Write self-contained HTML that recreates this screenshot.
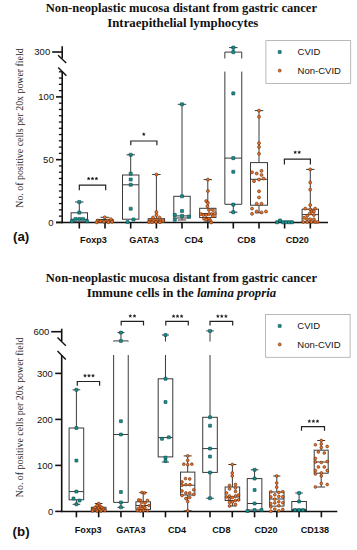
<!DOCTYPE html>
<html><head><meta charset="utf-8"><style>
html,body{margin:0;padding:0;background:#fff;}
body{width:357px;height:550px;overflow:hidden;}
svg{display:block;}
text{fill:#111;}
</style></head><body>
<svg width="357" height="550" viewBox="0 0 357 550">
<rect width="357" height="550" fill="#fff"/>
<text x="45.8" y="12.2" font-family="'Liberation Serif', serif" font-size="12.2" font-weight="bold" text-anchor="start" id="ta1" textLength="271.2" lengthAdjust="spacingAndGlyphs">Non-neoplastic mucosa distant from gastric cancer</text>
<text x="107.2" y="26.6" font-family="'Liberation Serif', serif" font-size="12.2" font-weight="bold" text-anchor="start" id="ta2" textLength="151.2" lengthAdjust="spacingAndGlyphs">Intraepithelial lymphocytes</text>
<text transform="translate(23.2,128.05) rotate(-90)" font-family="'Liberation Serif', serif" font-size="9.8" style="fill:#2a2a2a" text-anchor="middle" textLength="159.3" lengthAdjust="spacingAndGlyphs" id="yla">No. of positive cells per 20x power field</text>
<line x1="62.2" y1="46.2" x2="62.2" y2="58.5" stroke="#111" stroke-width="1.6"/>
<line x1="62.2" y1="71.2" x2="62.2" y2="223.2" stroke="#111" stroke-width="1.6"/>
<line x1="58.1" y1="55.2" x2="66.2" y2="63.0" stroke="#111" stroke-width="1.4"/>
<line x1="58.2" y1="67.6" x2="66.4" y2="75.8" stroke="#111" stroke-width="1.4"/>
<line x1="56.0" y1="222.5" x2="328.0" y2="222.5" stroke="#111" stroke-width="1.6"/>
<line x1="52.2" y1="52.0" x2="62.2" y2="52.0" stroke="#111" stroke-width="1.6"/>
<line x1="56.0" y1="96.90000000000002" x2="62.2" y2="96.90000000000002" stroke="#111" stroke-width="1.6"/>
<line x1="56.0" y1="159.65" x2="62.2" y2="159.65" stroke="#111" stroke-width="1.6"/>
<line x1="56.0" y1="222.4" x2="62.2" y2="222.4" stroke="#111" stroke-width="1.6"/>
<line x1="58.9" y1="216.125" x2="62.2" y2="216.125" stroke="#111" stroke-width="1.3"/>
<line x1="58.9" y1="209.85" x2="62.2" y2="209.85" stroke="#111" stroke-width="1.3"/>
<line x1="58.9" y1="203.57500000000002" x2="62.2" y2="203.57500000000002" stroke="#111" stroke-width="1.3"/>
<line x1="58.9" y1="197.3" x2="62.2" y2="197.3" stroke="#111" stroke-width="1.3"/>
<line x1="58.9" y1="191.025" x2="62.2" y2="191.025" stroke="#111" stroke-width="1.3"/>
<line x1="58.9" y1="184.75" x2="62.2" y2="184.75" stroke="#111" stroke-width="1.3"/>
<line x1="58.9" y1="178.47500000000002" x2="62.2" y2="178.47500000000002" stroke="#111" stroke-width="1.3"/>
<line x1="58.9" y1="172.20000000000002" x2="62.2" y2="172.20000000000002" stroke="#111" stroke-width="1.3"/>
<line x1="58.9" y1="165.925" x2="62.2" y2="165.925" stroke="#111" stroke-width="1.3"/>
<line x1="58.9" y1="153.375" x2="62.2" y2="153.375" stroke="#111" stroke-width="1.3"/>
<line x1="58.9" y1="147.10000000000002" x2="62.2" y2="147.10000000000002" stroke="#111" stroke-width="1.3"/>
<line x1="58.9" y1="140.82500000000002" x2="62.2" y2="140.82500000000002" stroke="#111" stroke-width="1.3"/>
<line x1="58.9" y1="134.55" x2="62.2" y2="134.55" stroke="#111" stroke-width="1.3"/>
<line x1="58.9" y1="128.27500000000003" x2="62.2" y2="128.27500000000003" stroke="#111" stroke-width="1.3"/>
<line x1="58.9" y1="122.00000000000001" x2="62.2" y2="122.00000000000001" stroke="#111" stroke-width="1.3"/>
<line x1="58.9" y1="115.72500000000001" x2="62.2" y2="115.72500000000001" stroke="#111" stroke-width="1.3"/>
<line x1="58.9" y1="109.45000000000002" x2="62.2" y2="109.45000000000002" stroke="#111" stroke-width="1.3"/>
<line x1="58.9" y1="103.17500000000001" x2="62.2" y2="103.17500000000001" stroke="#111" stroke-width="1.3"/>
<line x1="58.9" y1="90.62500000000003" x2="62.2" y2="90.62500000000003" stroke="#111" stroke-width="1.3"/>
<line x1="58.9" y1="84.35000000000002" x2="62.2" y2="84.35000000000002" stroke="#111" stroke-width="1.3"/>
<line x1="58.9" y1="78.07500000000002" x2="62.2" y2="78.07500000000002" stroke="#111" stroke-width="1.3"/>
<line x1="58.9" y1="71.80000000000001" x2="62.2" y2="71.80000000000001" stroke="#111" stroke-width="1.3"/>
<text x="50.2" y="55.0" font-family="'Liberation Sans', sans-serif" font-size="9.5" font-weight="normal" text-anchor="end" >300</text>
<text x="54.2" y="100.30000000000003" font-family="'Liberation Sans', sans-serif" font-size="9.5" font-weight="normal" text-anchor="end" >100</text>
<text x="53.7" y="163.05" font-family="'Liberation Sans', sans-serif" font-size="9.5" font-weight="normal" text-anchor="end" >50</text>
<text x="53.6" y="225.8" font-family="'Liberation Sans', sans-serif" font-size="9.5" font-weight="normal" text-anchor="end" >0</text>
<line x1="79.3" y1="222.4" x2="79.3" y2="228.5" stroke="#111" stroke-width="1.6"/>
<line x1="105.0" y1="222.4" x2="105.0" y2="228.5" stroke="#111" stroke-width="1.6"/>
<line x1="130.7" y1="222.4" x2="130.7" y2="228.5" stroke="#111" stroke-width="1.6"/>
<line x1="156.4" y1="222.4" x2="156.4" y2="228.5" stroke="#111" stroke-width="1.6"/>
<line x1="182.0" y1="222.4" x2="182.0" y2="228.5" stroke="#111" stroke-width="1.6"/>
<line x1="207.8" y1="222.4" x2="207.8" y2="228.5" stroke="#111" stroke-width="1.6"/>
<line x1="233.3" y1="222.4" x2="233.3" y2="228.5" stroke="#111" stroke-width="1.6"/>
<line x1="259.0" y1="222.4" x2="259.0" y2="228.5" stroke="#111" stroke-width="1.6"/>
<line x1="284.6" y1="222.4" x2="284.6" y2="228.5" stroke="#111" stroke-width="1.6"/>
<line x1="310.3" y1="222.4" x2="310.3" y2="228.5" stroke="#111" stroke-width="1.6"/>
<text x="93.5" y="242.6" font-family="'Liberation Sans', sans-serif" font-size="9.1" font-weight="bold" text-anchor="middle" >Foxp3</text>
<text x="144.1" y="242.6" font-family="'Liberation Sans', sans-serif" font-size="9.1" font-weight="bold" text-anchor="middle" >GATA3</text>
<text x="193.7" y="242.6" font-family="'Liberation Sans', sans-serif" font-size="9.1" font-weight="bold" text-anchor="middle" >CD4</text>
<text x="246.4" y="242.6" font-family="'Liberation Sans', sans-serif" font-size="9.1" font-weight="bold" text-anchor="middle" >CD8</text>
<text x="297.3" y="242.6" font-family="'Liberation Sans', sans-serif" font-size="9.1" font-weight="bold" text-anchor="middle" >CD20</text>
<text x="21.1" y="241.2" font-family="'Liberation Sans', sans-serif" font-size="13.3" font-weight="bold" text-anchor="middle" >(a)</text>
<rect x="265.9" y="40.6" width="84.8" height="42.8" fill="none" stroke="#a8a8a8" stroke-width="0.8"/>
<rect x="278.20" y="50.50" width="3.0" height="3.0" rx="0.3" fill="#14908e" stroke="#0a4446" stroke-width="0.55"/>
<circle cx="279.70" cy="70.60" r="1.5" fill="#f07424" stroke="#5e2a10" stroke-width="0.6"/>
<text x="297.6" y="55.4" font-family="'Liberation Sans', sans-serif" font-size="9.5" font-weight="normal" text-anchor="start" >CVID</text>
<text x="297.6" y="74.0" font-family="'Liberation Sans', sans-serif" font-size="9.5" font-weight="normal" text-anchor="start" >Non-CVID</text>
<line x1="79.3" y1="202.0" x2="79.3" y2="212.8" stroke="#3a3a3a" stroke-width="1"/>
<line x1="75.1" y1="202.0" x2="83.5" y2="202.0" stroke="#3a3a3a" stroke-width="1"/>
<rect x="71.1" y="212.8" width="16.4" height="9.0" fill="none" stroke="#3a3a3a" stroke-width="1"/>
<line x1="71.1" y1="219.3" x2="87.5" y2="219.3" stroke="#3a3a3a" stroke-width="1"/>
<rect x="77.75" y="200.45" width="3.1" height="3.1" rx="0.3" fill="#14908e" stroke="#0a4446" stroke-width="0.55"/>
<rect x="77.75" y="211.05" width="3.1" height="3.1" rx="0.3" fill="#14908e" stroke="#0a4446" stroke-width="0.55"/>
<rect x="73.95" y="217.45" width="3.1" height="3.1" rx="0.3" fill="#14908e" stroke="#0a4446" stroke-width="0.55"/>
<rect x="77.75" y="217.45" width="3.1" height="3.1" rx="0.3" fill="#14908e" stroke="#0a4446" stroke-width="0.55"/>
<rect x="81.45" y="217.45" width="3.1" height="3.1" rx="0.3" fill="#14908e" stroke="#0a4446" stroke-width="0.55"/>
<rect x="70.45" y="219.65" width="3.1" height="3.1" rx="0.3" fill="#14908e" stroke="#0a4446" stroke-width="0.55"/>
<rect x="85.45" y="219.65" width="3.1" height="3.1" rx="0.3" fill="#14908e" stroke="#0a4446" stroke-width="0.55"/>
<line x1="105.0" y1="217.3" x2="105.0" y2="219.5" stroke="#3a3a3a" stroke-width="1"/>
<line x1="100.5" y1="217.3" x2="109.5" y2="217.3" stroke="#3a3a3a" stroke-width="1"/>
<rect x="96.8" y="219.5" width="16.4" height="2.8000000000000114" fill="none" stroke="#3a3a3a" stroke-width="1"/>
<line x1="96.8" y1="221.0" x2="113.2" y2="221.0" stroke="#3a3a3a" stroke-width="1"/>
<circle cx="104.70" cy="217.30" r="1.5" fill="#f07424" stroke="#5e2a10" stroke-width="0.6"/>
<circle cx="97.50" cy="220.50" r="1.5" fill="#f07424" stroke="#5e2a10" stroke-width="0.6"/>
<circle cx="100.50" cy="221.20" r="1.5" fill="#f07424" stroke="#5e2a10" stroke-width="0.6"/>
<circle cx="104.00" cy="221.80" r="1.5" fill="#f07424" stroke="#5e2a10" stroke-width="0.6"/>
<circle cx="107.50" cy="220.50" r="1.5" fill="#f07424" stroke="#5e2a10" stroke-width="0.6"/>
<circle cx="111.00" cy="219.30" r="1.5" fill="#f07424" stroke="#5e2a10" stroke-width="0.6"/>
<circle cx="112.00" cy="221.80" r="1.5" fill="#f07424" stroke="#5e2a10" stroke-width="0.6"/>
<circle cx="108.50" cy="222.20" r="1.5" fill="#f07424" stroke="#5e2a10" stroke-width="0.6"/>
<circle cx="96.80" cy="222.30" r="1.5" fill="#f07424" stroke="#5e2a10" stroke-width="0.6"/>
<line x1="130.7" y1="154.8" x2="130.7" y2="175.0" stroke="#3a3a3a" stroke-width="1"/>
<line x1="126.49999999999999" y1="154.8" x2="134.89999999999998" y2="154.8" stroke="#3a3a3a" stroke-width="1"/>
<rect x="122.49999999999999" y="175.0" width="16.4" height="44.19999999999999" fill="none" stroke="#3a3a3a" stroke-width="1"/>
<line x1="122.49999999999999" y1="184.8" x2="138.89999999999998" y2="184.8" stroke="#3a3a3a" stroke-width="1"/>
<rect x="129.15" y="153.25" width="3.1" height="3.1" rx="0.3" fill="#14908e" stroke="#0a4446" stroke-width="0.55"/>
<rect x="129.15" y="172.15" width="3.1" height="3.1" rx="0.3" fill="#14908e" stroke="#0a4446" stroke-width="0.55"/>
<rect x="129.15" y="177.95" width="3.1" height="3.1" rx="0.3" fill="#14908e" stroke="#0a4446" stroke-width="0.55"/>
<rect x="129.15" y="183.25" width="3.1" height="3.1" rx="0.3" fill="#14908e" stroke="#0a4446" stroke-width="0.55"/>
<rect x="129.15" y="207.15" width="3.1" height="3.1" rx="0.3" fill="#14908e" stroke="#0a4446" stroke-width="0.55"/>
<rect x="125.95" y="220.45" width="3.1" height="3.1" rx="0.3" fill="#14908e" stroke="#0a4446" stroke-width="0.55"/>
<rect x="131.95" y="217.95" width="3.1" height="3.1" rx="0.3" fill="#14908e" stroke="#0a4446" stroke-width="0.55"/>
<line x1="156.4" y1="174.5" x2="156.4" y2="218.7" stroke="#3a3a3a" stroke-width="1"/>
<line x1="152.20000000000002" y1="174.5" x2="160.6" y2="174.5" stroke="#3a3a3a" stroke-width="1"/>
<rect x="148.20000000000002" y="218.7" width="16.4" height="3.3000000000000114" fill="none" stroke="#3a3a3a" stroke-width="1"/>
<line x1="148.20000000000002" y1="220.5" x2="164.6" y2="220.5" stroke="#3a3a3a" stroke-width="1"/>
<circle cx="156.40" cy="174.50" r="1.5" fill="#f07424" stroke="#5e2a10" stroke-width="0.6"/>
<circle cx="156.40" cy="212.00" r="1.5" fill="#f07424" stroke="#5e2a10" stroke-width="0.6"/>
<circle cx="156.40" cy="215.00" r="1.5" fill="#f07424" stroke="#5e2a10" stroke-width="0.6"/>
<circle cx="153.00" cy="217.50" r="1.5" fill="#f07424" stroke="#5e2a10" stroke-width="0.6"/>
<circle cx="159.50" cy="217.50" r="1.5" fill="#f07424" stroke="#5e2a10" stroke-width="0.6"/>
<circle cx="150.00" cy="220.00" r="1.5" fill="#f07424" stroke="#5e2a10" stroke-width="0.6"/>
<circle cx="153.50" cy="220.50" r="1.5" fill="#f07424" stroke="#5e2a10" stroke-width="0.6"/>
<circle cx="157.00" cy="220.00" r="1.5" fill="#f07424" stroke="#5e2a10" stroke-width="0.6"/>
<circle cx="160.50" cy="220.50" r="1.5" fill="#f07424" stroke="#5e2a10" stroke-width="0.6"/>
<circle cx="163.00" cy="221.00" r="1.5" fill="#f07424" stroke="#5e2a10" stroke-width="0.6"/>
<circle cx="149.00" cy="222.00" r="1.5" fill="#f07424" stroke="#5e2a10" stroke-width="0.6"/>
<circle cx="152.00" cy="222.20" r="1.5" fill="#f07424" stroke="#5e2a10" stroke-width="0.6"/>
<circle cx="156.00" cy="222.00" r="1.5" fill="#f07424" stroke="#5e2a10" stroke-width="0.6"/>
<circle cx="160.00" cy="222.20" r="1.5" fill="#f07424" stroke="#5e2a10" stroke-width="0.6"/>
<line x1="182.0" y1="104.3" x2="182.0" y2="196.3" stroke="#3a3a3a" stroke-width="1"/>
<line x1="177.8" y1="104.3" x2="186.2" y2="104.3" stroke="#3a3a3a" stroke-width="1"/>
<line x1="182.0" y1="218.0" x2="182.0" y2="220.0" stroke="#3a3a3a" stroke-width="1"/>
<line x1="177.8" y1="220.0" x2="186.2" y2="220.0" stroke="#3a3a3a" stroke-width="1"/>
<rect x="173.8" y="196.3" width="16.4" height="21.69999999999999" fill="none" stroke="#3a3a3a" stroke-width="1"/>
<line x1="173.8" y1="215.9" x2="190.2" y2="215.9" stroke="#3a3a3a" stroke-width="1"/>
<rect x="180.45" y="102.75" width="3.1" height="3.1" rx="0.3" fill="#14908e" stroke="#0a4446" stroke-width="0.55"/>
<rect x="180.45" y="194.75" width="3.1" height="3.1" rx="0.3" fill="#14908e" stroke="#0a4446" stroke-width="0.55"/>
<rect x="180.45" y="209.45" width="3.1" height="3.1" rx="0.3" fill="#14908e" stroke="#0a4446" stroke-width="0.55"/>
<rect x="173.25" y="213.35" width="3.1" height="3.1" rx="0.3" fill="#14908e" stroke="#0a4446" stroke-width="0.55"/>
<rect x="180.45" y="214.35" width="3.1" height="3.1" rx="0.3" fill="#14908e" stroke="#0a4446" stroke-width="0.55"/>
<rect x="187.45" y="215.05" width="3.1" height="3.1" rx="0.3" fill="#14908e" stroke="#0a4446" stroke-width="0.55"/>
<rect x="173.25" y="218.15" width="3.1" height="3.1" rx="0.3" fill="#14908e" stroke="#0a4446" stroke-width="0.55"/>
<line x1="207.8" y1="179.6" x2="207.8" y2="208.3" stroke="#3a3a3a" stroke-width="1"/>
<line x1="203.60000000000002" y1="179.6" x2="212.0" y2="179.6" stroke="#3a3a3a" stroke-width="1"/>
<line x1="207.8" y1="217.5" x2="207.8" y2="222.0" stroke="#3a3a3a" stroke-width="1"/>
<line x1="203.60000000000002" y1="222.0" x2="212.0" y2="222.0" stroke="#3a3a3a" stroke-width="1"/>
<rect x="199.65" y="208.3" width="16.3" height="9.199999999999989" fill="none" stroke="#3a3a3a" stroke-width="1"/>
<line x1="199.65" y1="213.5" x2="215.95000000000002" y2="213.5" stroke="#3a3a3a" stroke-width="1"/>
<circle cx="207.90" cy="179.60" r="1.5" fill="#f07424" stroke="#5e2a10" stroke-width="0.6"/>
<circle cx="207.90" cy="191.00" r="1.5" fill="#f07424" stroke="#5e2a10" stroke-width="0.6"/>
<circle cx="206.20" cy="201.10" r="1.5" fill="#f07424" stroke="#5e2a10" stroke-width="0.6"/>
<circle cx="207.90" cy="202.80" r="1.5" fill="#f07424" stroke="#5e2a10" stroke-width="0.6"/>
<circle cx="207.40" cy="206.10" r="1.5" fill="#f07424" stroke="#5e2a10" stroke-width="0.6"/>
<circle cx="209.00" cy="210.00" r="1.5" fill="#f07424" stroke="#5e2a10" stroke-width="0.6"/>
<circle cx="212.90" cy="210.00" r="1.5" fill="#f07424" stroke="#5e2a10" stroke-width="0.6"/>
<circle cx="200.80" cy="214.00" r="1.5" fill="#f07424" stroke="#5e2a10" stroke-width="0.6"/>
<circle cx="203.30" cy="215.00" r="1.5" fill="#f07424" stroke="#5e2a10" stroke-width="0.6"/>
<circle cx="206.20" cy="215.00" r="1.5" fill="#f07424" stroke="#5e2a10" stroke-width="0.6"/>
<circle cx="209.00" cy="214.00" r="1.5" fill="#f07424" stroke="#5e2a10" stroke-width="0.6"/>
<circle cx="211.70" cy="214.00" r="1.5" fill="#f07424" stroke="#5e2a10" stroke-width="0.6"/>
<circle cx="214.90" cy="213.40" r="1.5" fill="#f07424" stroke="#5e2a10" stroke-width="0.6"/>
<circle cx="212.90" cy="216.20" r="1.5" fill="#f07424" stroke="#5e2a10" stroke-width="0.6"/>
<circle cx="204.00" cy="218.70" r="1.5" fill="#f07424" stroke="#5e2a10" stroke-width="0.6"/>
<circle cx="209.00" cy="218.70" r="1.5" fill="#f07424" stroke="#5e2a10" stroke-width="0.6"/>
<circle cx="206.20" cy="219.60" r="1.5" fill="#f07424" stroke="#5e2a10" stroke-width="0.6"/>
<circle cx="210.40" cy="220.40" r="1.5" fill="#f07424" stroke="#5e2a10" stroke-width="0.6"/>
<circle cx="211.20" cy="222.40" r="1.5" fill="#f07424" stroke="#5e2a10" stroke-width="0.6"/>
<line x1="233.3" y1="47.6" x2="233.3" y2="52.1" stroke="#3a3a3a" stroke-width="1"/>
<line x1="229.10000000000002" y1="47.6" x2="237.5" y2="47.6" stroke="#3a3a3a" stroke-width="1"/>
<line x1="233.3" y1="204.3" x2="233.3" y2="212.2" stroke="#3a3a3a" stroke-width="1"/>
<line x1="229.10000000000002" y1="212.2" x2="237.5" y2="212.2" stroke="#3a3a3a" stroke-width="1"/>
<line x1="224.85000000000002" y1="52.1" x2="241.75" y2="52.1" stroke="#3a3a3a" stroke-width="1"/>
<line x1="224.85000000000002" y1="52.1" x2="224.85000000000002" y2="58.5" stroke="#3a3a3a" stroke-width="1"/>
<line x1="224.85000000000002" y1="71.6" x2="224.85000000000002" y2="204.3" stroke="#3a3a3a" stroke-width="1"/>
<line x1="241.75" y1="52.1" x2="241.75" y2="58.5" stroke="#3a3a3a" stroke-width="1"/>
<line x1="241.75" y1="71.6" x2="241.75" y2="204.3" stroke="#3a3a3a" stroke-width="1"/>
<line x1="224.85000000000002" y1="204.3" x2="241.75" y2="204.3" stroke="#3a3a3a" stroke-width="1"/>
<line x1="224.85000000000002" y1="158.1" x2="241.75" y2="158.1" stroke="#3a3a3a" stroke-width="1"/>
<rect x="231.75" y="46.05" width="3.1" height="3.1" rx="0.3" fill="#14908e" stroke="#0a4446" stroke-width="0.55"/>
<rect x="231.75" y="50.55" width="3.1" height="3.1" rx="0.3" fill="#14908e" stroke="#0a4446" stroke-width="0.55"/>
<rect x="231.75" y="91.85" width="3.1" height="3.1" rx="0.3" fill="#14908e" stroke="#0a4446" stroke-width="0.55"/>
<rect x="231.75" y="156.55" width="3.1" height="3.1" rx="0.3" fill="#14908e" stroke="#0a4446" stroke-width="0.55"/>
<rect x="231.75" y="170.25" width="3.1" height="3.1" rx="0.3" fill="#14908e" stroke="#0a4446" stroke-width="0.55"/>
<rect x="231.75" y="203.05" width="3.1" height="3.1" rx="0.3" fill="#14908e" stroke="#0a4446" stroke-width="0.55"/>
<rect x="231.75" y="210.65" width="3.1" height="3.1" rx="0.3" fill="#14908e" stroke="#0a4446" stroke-width="0.55"/>
<line x1="259.0" y1="110.6" x2="259.0" y2="162.6" stroke="#3a3a3a" stroke-width="1"/>
<line x1="254.8" y1="110.6" x2="263.2" y2="110.6" stroke="#3a3a3a" stroke-width="1"/>
<line x1="259.0" y1="205.2" x2="259.0" y2="212.8" stroke="#3a3a3a" stroke-width="1"/>
<line x1="254.8" y1="212.8" x2="263.2" y2="212.8" stroke="#3a3a3a" stroke-width="1"/>
<rect x="250.5" y="162.6" width="17.0" height="42.599999999999994" fill="none" stroke="#3a3a3a" stroke-width="1"/>
<line x1="250.5" y1="179.3" x2="267.5" y2="179.3" stroke="#3a3a3a" stroke-width="1"/>
<circle cx="259.00" cy="110.60" r="1.5" fill="#f07424" stroke="#5e2a10" stroke-width="0.6"/>
<circle cx="259.00" cy="116.80" r="1.5" fill="#f07424" stroke="#5e2a10" stroke-width="0.6"/>
<circle cx="259.00" cy="143.20" r="1.5" fill="#f07424" stroke="#5e2a10" stroke-width="0.6"/>
<circle cx="259.00" cy="147.00" r="1.5" fill="#f07424" stroke="#5e2a10" stroke-width="0.6"/>
<circle cx="259.00" cy="153.70" r="1.5" fill="#f07424" stroke="#5e2a10" stroke-width="0.6"/>
<circle cx="252.00" cy="172.30" r="1.5" fill="#f07424" stroke="#5e2a10" stroke-width="0.6"/>
<circle cx="256.70" cy="173.50" r="1.5" fill="#f07424" stroke="#5e2a10" stroke-width="0.6"/>
<circle cx="261.50" cy="170.80" r="1.5" fill="#f07424" stroke="#5e2a10" stroke-width="0.6"/>
<circle cx="261.50" cy="174.90" r="1.5" fill="#f07424" stroke="#5e2a10" stroke-width="0.6"/>
<circle cx="254.00" cy="181.20" r="1.5" fill="#f07424" stroke="#5e2a10" stroke-width="0.6"/>
<circle cx="259.00" cy="179.60" r="1.5" fill="#f07424" stroke="#5e2a10" stroke-width="0.6"/>
<circle cx="263.60" cy="178.60" r="1.5" fill="#f07424" stroke="#5e2a10" stroke-width="0.6"/>
<circle cx="259.00" cy="191.30" r="1.5" fill="#f07424" stroke="#5e2a10" stroke-width="0.6"/>
<circle cx="259.00" cy="197.40" r="1.5" fill="#f07424" stroke="#5e2a10" stroke-width="0.6"/>
<circle cx="256.70" cy="203.70" r="1.5" fill="#f07424" stroke="#5e2a10" stroke-width="0.6"/>
<circle cx="261.50" cy="203.70" r="1.5" fill="#f07424" stroke="#5e2a10" stroke-width="0.6"/>
<circle cx="252.00" cy="208.60" r="1.5" fill="#f07424" stroke="#5e2a10" stroke-width="0.6"/>
<circle cx="256.70" cy="211.50" r="1.5" fill="#f07424" stroke="#5e2a10" stroke-width="0.6"/>
<circle cx="261.50" cy="212.40" r="1.5" fill="#f07424" stroke="#5e2a10" stroke-width="0.6"/>
<circle cx="266.00" cy="211.50" r="1.5" fill="#f07424" stroke="#5e2a10" stroke-width="0.6"/>
<circle cx="252.00" cy="213.80" r="1.5" fill="#f07424" stroke="#5e2a10" stroke-width="0.6"/>
<rect x="276.40000000000003" y="221.2" width="16.4" height="1.1000000000000227" fill="none" stroke="#3a3a3a" stroke-width="1"/>
<line x1="276.40000000000003" y1="221.8" x2="292.8" y2="221.8" stroke="#3a3a3a" stroke-width="1"/>
<rect x="275.50" y="220.80" width="3.0" height="3.0" rx="0.3" fill="#14908e" stroke="#0a4446" stroke-width="0.55"/>
<rect x="278.50" y="218.90" width="3.0" height="3.0" rx="0.3" fill="#14908e" stroke="#0a4446" stroke-width="0.55"/>
<rect x="281.50" y="220.80" width="3.0" height="3.0" rx="0.3" fill="#14908e" stroke="#0a4446" stroke-width="0.55"/>
<rect x="284.50" y="220.80" width="3.0" height="3.0" rx="0.3" fill="#14908e" stroke="#0a4446" stroke-width="0.55"/>
<rect x="287.50" y="220.80" width="3.0" height="3.0" rx="0.3" fill="#14908e" stroke="#0a4446" stroke-width="0.55"/>
<rect x="290.50" y="220.80" width="3.0" height="3.0" rx="0.3" fill="#14908e" stroke="#0a4446" stroke-width="0.55"/>
<line x1="310.3" y1="169.4" x2="310.3" y2="209.2" stroke="#3a3a3a" stroke-width="1"/>
<line x1="306.1" y1="169.4" x2="314.5" y2="169.4" stroke="#3a3a3a" stroke-width="1"/>
<rect x="302.1" y="209.2" width="16.4" height="12.800000000000011" fill="none" stroke="#3a3a3a" stroke-width="1"/>
<line x1="302.1" y1="214.6" x2="318.5" y2="214.6" stroke="#3a3a3a" stroke-width="1"/>
<circle cx="310.20" cy="169.40" r="1.5" fill="#f07424" stroke="#5e2a10" stroke-width="0.6"/>
<circle cx="310.20" cy="182.40" r="1.5" fill="#f07424" stroke="#5e2a10" stroke-width="0.6"/>
<circle cx="310.20" cy="189.60" r="1.5" fill="#f07424" stroke="#5e2a10" stroke-width="0.6"/>
<circle cx="310.20" cy="205.00" r="1.5" fill="#f07424" stroke="#5e2a10" stroke-width="0.6"/>
<circle cx="305.30" cy="208.60" r="1.5" fill="#f07424" stroke="#5e2a10" stroke-width="0.6"/>
<circle cx="310.20" cy="209.40" r="1.5" fill="#f07424" stroke="#5e2a10" stroke-width="0.6"/>
<circle cx="315.20" cy="208.60" r="1.5" fill="#f07424" stroke="#5e2a10" stroke-width="0.6"/>
<circle cx="311.60" cy="211.60" r="1.5" fill="#f07424" stroke="#5e2a10" stroke-width="0.6"/>
<circle cx="313.90" cy="211.60" r="1.5" fill="#f07424" stroke="#5e2a10" stroke-width="0.6"/>
<circle cx="309.80" cy="213.50" r="1.5" fill="#f07424" stroke="#5e2a10" stroke-width="0.6"/>
<circle cx="313.90" cy="215.00" r="1.5" fill="#f07424" stroke="#5e2a10" stroke-width="0.6"/>
<circle cx="307.20" cy="215.80" r="1.5" fill="#f07424" stroke="#5e2a10" stroke-width="0.6"/>
<circle cx="304.00" cy="217.80" r="1.5" fill="#f07424" stroke="#5e2a10" stroke-width="0.6"/>
<circle cx="307.00" cy="219.30" r="1.5" fill="#f07424" stroke="#5e2a10" stroke-width="0.6"/>
<circle cx="310.20" cy="219.30" r="1.5" fill="#f07424" stroke="#5e2a10" stroke-width="0.6"/>
<circle cx="313.90" cy="219.30" r="1.5" fill="#f07424" stroke="#5e2a10" stroke-width="0.6"/>
<circle cx="303.30" cy="222.00" r="1.5" fill="#f07424" stroke="#5e2a10" stroke-width="0.6"/>
<circle cx="307.20" cy="222.00" r="1.5" fill="#f07424" stroke="#5e2a10" stroke-width="0.6"/>
<circle cx="311.40" cy="222.00" r="1.5" fill="#f07424" stroke="#5e2a10" stroke-width="0.6"/>
<circle cx="315.20" cy="222.00" r="1.5" fill="#f07424" stroke="#5e2a10" stroke-width="0.6"/>
<circle cx="317.60" cy="222.00" r="1.5" fill="#f07424" stroke="#5e2a10" stroke-width="0.6"/>
<polyline points="79.3,190.3 79.3,185.1 105.7,185.1 105.7,190.3" fill="none" stroke="#222" stroke-width="1.2"/>
<polygon points="88.65,177.00 89.06,178.03 90.17,178.11 89.32,178.82 89.59,179.89 88.65,179.30 87.71,179.89 87.98,178.82 87.13,178.11 88.24,178.03" fill="#111" stroke="#111" stroke-width="0.35"/>
<polygon points="92.50,177.00 92.91,178.03 94.02,178.11 93.17,178.82 93.44,179.89 92.50,179.30 91.56,179.89 91.83,178.82 90.98,178.11 92.09,178.03" fill="#111" stroke="#111" stroke-width="0.35"/>
<polygon points="96.40,177.00 96.81,178.03 97.92,178.11 97.07,178.82 97.34,179.89 96.40,179.30 95.46,179.89 95.73,178.82 94.88,178.11 95.99,178.03" fill="#111" stroke="#111" stroke-width="0.35"/>
<polyline points="130.8,145.2 130.8,141.0 156.9,141.0 156.9,145.2" fill="none" stroke="#222" stroke-width="1.2"/>
<polygon points="143.80,132.60 144.21,133.63 145.32,133.71 144.47,134.42 144.74,135.49 143.80,134.90 142.86,135.49 143.13,134.42 142.28,133.71 143.39,133.63" fill="#111" stroke="#111" stroke-width="0.35"/>
<polyline points="284.4,164.4 284.4,159.2 310.4,159.2 310.4,164.4" fill="none" stroke="#222" stroke-width="1.2"/>
<polygon points="295.20,150.70 295.61,151.73 296.72,151.81 295.87,152.52 296.14,153.59 295.20,153.00 294.26,153.59 294.53,152.52 293.68,151.81 294.79,151.73" fill="#111" stroke="#111" stroke-width="0.35"/>
<polygon points="299.20,150.70 299.61,151.73 300.72,151.81 299.87,152.52 300.14,153.59 299.20,153.00 298.26,153.59 298.53,152.52 297.68,151.81 298.79,151.73" fill="#111" stroke="#111" stroke-width="0.35"/>
<text x="45.8" y="282.1" font-family="'Liberation Serif', serif" font-size="12.2" font-weight="bold" text-anchor="start" id="tb1" textLength="271.2" lengthAdjust="spacingAndGlyphs">Non-neoplastic mucosa distant from gastric cancer</text>
<text x="86.7" y="296.8" font-family="'Liberation Serif', serif" font-size="12.2" font-weight="bold" text-anchor="start" textLength="189.5" lengthAdjust="spacingAndGlyphs" id="tb2">Immune cells in the <tspan font-style="italic">lamina propria</tspan></text>
<text transform="translate(23.2,417.4) rotate(-90)" font-family="'Liberation Serif', serif" font-size="9.8" style="fill:#2a2a2a" text-anchor="middle" textLength="159.5" lengthAdjust="spacingAndGlyphs" id="ylb">No. of positive cells per 20x power field</text>
<line x1="61.7" y1="328.7" x2="61.7" y2="341.0" stroke="#111" stroke-width="1.6"/>
<line x1="61.7" y1="355.3" x2="61.7" y2="512.2" stroke="#111" stroke-width="1.6"/>
<line x1="57.5" y1="337.5" x2="65.8" y2="345.8" stroke="#111" stroke-width="1.4"/>
<line x1="57.5" y1="350.9" x2="65.8" y2="359.5" stroke="#111" stroke-width="1.4"/>
<line x1="51.2" y1="331.7" x2="61.7" y2="331.7" stroke="#111" stroke-width="1.6"/>
<line x1="55.2" y1="373.4" x2="61.7" y2="373.4" stroke="#111" stroke-width="1.6"/>
<line x1="55.2" y1="419.4" x2="61.7" y2="419.4" stroke="#111" stroke-width="1.6"/>
<line x1="55.2" y1="465.4" x2="61.7" y2="465.4" stroke="#111" stroke-width="1.6"/>
<line x1="55.2" y1="511.4" x2="61.7" y2="511.4" stroke="#111" stroke-width="1.6"/>
<line x1="61.7" y1="511.5" x2="337.3" y2="511.5" stroke="#111" stroke-width="1.6"/>
<text x="49.3" y="334.9" font-family="'Liberation Sans', sans-serif" font-size="9.5" font-weight="normal" text-anchor="end" >600</text>
<text x="52.9" y="376.79999999999995" font-family="'Liberation Sans', sans-serif" font-size="9.5" font-weight="normal" text-anchor="end" >300</text>
<text x="52.9" y="422.79999999999995" font-family="'Liberation Sans', sans-serif" font-size="9.5" font-weight="normal" text-anchor="end" >200</text>
<text x="52.9" y="468.79999999999995" font-family="'Liberation Sans', sans-serif" font-size="9.5" font-weight="normal" text-anchor="end" >100</text>
<text x="53.3" y="514.8" font-family="'Liberation Sans', sans-serif" font-size="9.5" font-weight="normal" text-anchor="end" >0</text>
<line x1="76.4" y1="511.2" x2="76.4" y2="517.3" stroke="#111" stroke-width="1.6"/>
<line x1="98.67" y1="511.2" x2="98.67" y2="517.3" stroke="#111" stroke-width="1.6"/>
<line x1="120.94" y1="511.2" x2="120.94" y2="517.3" stroke="#111" stroke-width="1.6"/>
<line x1="143.21" y1="511.2" x2="143.21" y2="517.3" stroke="#111" stroke-width="1.6"/>
<line x1="165.48000000000002" y1="511.2" x2="165.48000000000002" y2="517.3" stroke="#111" stroke-width="1.6"/>
<line x1="187.75" y1="511.2" x2="187.75" y2="517.3" stroke="#111" stroke-width="1.6"/>
<line x1="210.02" y1="511.2" x2="210.02" y2="517.3" stroke="#111" stroke-width="1.6"/>
<line x1="232.29" y1="511.2" x2="232.29" y2="517.3" stroke="#111" stroke-width="1.6"/>
<line x1="254.56" y1="511.2" x2="254.56" y2="517.3" stroke="#111" stroke-width="1.6"/>
<line x1="276.83000000000004" y1="511.2" x2="276.83000000000004" y2="517.3" stroke="#111" stroke-width="1.6"/>
<line x1="299.1" y1="511.2" x2="299.1" y2="517.3" stroke="#111" stroke-width="1.6"/>
<line x1="321.37" y1="511.2" x2="321.37" y2="517.3" stroke="#111" stroke-width="1.6"/>
<text x="88.2" y="532.8" font-family="'Liberation Sans', sans-serif" font-size="9.1" font-weight="bold" text-anchor="middle" >Foxp3</text>
<text x="130.9" y="532.8" font-family="'Liberation Sans', sans-serif" font-size="9.1" font-weight="bold" text-anchor="middle" >GATA3</text>
<text x="177.0" y="532.8" font-family="'Liberation Sans', sans-serif" font-size="9.1" font-weight="bold" text-anchor="middle" >CD4</text>
<text x="221.4" y="532.8" font-family="'Liberation Sans', sans-serif" font-size="9.1" font-weight="bold" text-anchor="middle" >CD8</text>
<text x="266.0" y="532.8" font-family="'Liberation Sans', sans-serif" font-size="9.1" font-weight="bold" text-anchor="middle" >CD20</text>
<text x="314.9" y="532.8" font-family="'Liberation Sans', sans-serif" font-size="9.1" font-weight="bold" text-anchor="middle" >CD138</text>
<text x="21.1" y="535.8" font-family="'Liberation Sans', sans-serif" font-size="13.3" font-weight="bold" text-anchor="middle" >(b)</text>
<rect x="265.6" y="314.4" width="84.5" height="42.9" fill="none" stroke="#a8a8a8" stroke-width="0.8"/>
<rect x="278.20" y="324.40" width="3.0" height="3.0" rx="0.3" fill="#14908e" stroke="#0a4446" stroke-width="0.55"/>
<circle cx="279.70" cy="344.40" r="1.5" fill="#f07424" stroke="#5e2a10" stroke-width="0.6"/>
<text x="297.3" y="329.3" font-family="'Liberation Sans', sans-serif" font-size="9.5" font-weight="normal" text-anchor="start" >CVID</text>
<text x="297.3" y="347.8" font-family="'Liberation Sans', sans-serif" font-size="9.5" font-weight="normal" text-anchor="start" >Non-CVID</text>
<line x1="76.4" y1="389.8" x2="76.4" y2="428.0" stroke="#3a3a3a" stroke-width="1"/>
<line x1="72.60000000000001" y1="389.8" x2="80.2" y2="389.8" stroke="#3a3a3a" stroke-width="1"/>
<line x1="76.4" y1="499.8" x2="76.4" y2="504.3" stroke="#3a3a3a" stroke-width="1"/>
<line x1="72.60000000000001" y1="504.3" x2="80.2" y2="504.3" stroke="#3a3a3a" stroke-width="1"/>
<rect x="69.10000000000001" y="428.0" width="14.6" height="71.80000000000001" fill="none" stroke="#3a3a3a" stroke-width="1"/>
<line x1="69.10000000000001" y1="491.6" x2="83.7" y2="491.6" stroke="#3a3a3a" stroke-width="1"/>
<rect x="74.90" y="388.30" width="3.0" height="3.0" rx="0.3" fill="#14908e" stroke="#0a4446" stroke-width="0.55"/>
<rect x="74.90" y="426.50" width="3.0" height="3.0" rx="0.3" fill="#14908e" stroke="#0a4446" stroke-width="0.55"/>
<rect x="74.90" y="459.10" width="3.0" height="3.0" rx="0.3" fill="#14908e" stroke="#0a4446" stroke-width="0.55"/>
<rect x="74.90" y="490.10" width="3.0" height="3.0" rx="0.3" fill="#14908e" stroke="#0a4446" stroke-width="0.55"/>
<rect x="72.00" y="497.00" width="3.0" height="3.0" rx="0.3" fill="#14908e" stroke="#0a4446" stroke-width="0.55"/>
<rect x="78.00" y="499.00" width="3.0" height="3.0" rx="0.3" fill="#14908e" stroke="#0a4446" stroke-width="0.55"/>
<rect x="74.90" y="502.80" width="3.0" height="3.0" rx="0.3" fill="#14908e" stroke="#0a4446" stroke-width="0.55"/>
<line x1="98.67" y1="503.5" x2="98.67" y2="507.3" stroke="#3a3a3a" stroke-width="1"/>
<line x1="94.87" y1="503.5" x2="102.47" y2="503.5" stroke="#3a3a3a" stroke-width="1"/>
<rect x="91.37" y="507.3" width="14.6" height="3.6999999999999886" fill="none" stroke="#3a3a3a" stroke-width="1"/>
<line x1="91.37" y1="509" x2="105.97" y2="509" stroke="#3a3a3a" stroke-width="1"/>
<circle cx="98.70" cy="503.50" r="1.4" fill="#f07424" stroke="#5e2a10" stroke-width="0.6"/>
<circle cx="97.00" cy="505.50" r="1.4" fill="#f07424" stroke="#5e2a10" stroke-width="0.6"/>
<circle cx="100.00" cy="506.00" r="1.4" fill="#f07424" stroke="#5e2a10" stroke-width="0.6"/>
<circle cx="95.00" cy="507.50" r="1.4" fill="#f07424" stroke="#5e2a10" stroke-width="0.6"/>
<circle cx="98.50" cy="508.00" r="1.4" fill="#f07424" stroke="#5e2a10" stroke-width="0.6"/>
<circle cx="102.00" cy="507.50" r="1.4" fill="#f07424" stroke="#5e2a10" stroke-width="0.6"/>
<circle cx="93.00" cy="509.50" r="1.4" fill="#f07424" stroke="#5e2a10" stroke-width="0.6"/>
<circle cx="96.50" cy="510.00" r="1.4" fill="#f07424" stroke="#5e2a10" stroke-width="0.6"/>
<circle cx="100.00" cy="509.80" r="1.4" fill="#f07424" stroke="#5e2a10" stroke-width="0.6"/>
<circle cx="103.50" cy="509.50" r="1.4" fill="#f07424" stroke="#5e2a10" stroke-width="0.6"/>
<circle cx="92.50" cy="511.00" r="1.4" fill="#f07424" stroke="#5e2a10" stroke-width="0.6"/>
<circle cx="97.00" cy="511.00" r="1.4" fill="#f07424" stroke="#5e2a10" stroke-width="0.6"/>
<circle cx="101.00" cy="511.00" r="1.4" fill="#f07424" stroke="#5e2a10" stroke-width="0.6"/>
<circle cx="105.00" cy="510.50" r="1.4" fill="#f07424" stroke="#5e2a10" stroke-width="0.6"/>
<line x1="120.94" y1="332.6" x2="120.94" y2="340.9" stroke="#3a3a3a" stroke-width="1"/>
<line x1="117.44" y1="332.6" x2="124.44" y2="332.6" stroke="#3a3a3a" stroke-width="1"/>
<line x1="120.94" y1="502.4" x2="120.94" y2="507.3" stroke="#3a3a3a" stroke-width="1"/>
<line x1="117.44" y1="507.3" x2="124.44" y2="507.3" stroke="#3a3a3a" stroke-width="1"/>
<line x1="113.64" y1="340.9" x2="128.24" y2="340.9" stroke="#3a3a3a" stroke-width="1"/>
<line x1="113.64" y1="340.9" x2="113.64" y2="341.5" stroke="#3a3a3a" stroke-width="1"/>
<line x1="113.64" y1="355.0" x2="113.64" y2="502.4" stroke="#3a3a3a" stroke-width="1"/>
<line x1="128.24" y1="340.9" x2="128.24" y2="341.5" stroke="#3a3a3a" stroke-width="1"/>
<line x1="128.24" y1="355.0" x2="128.24" y2="502.4" stroke="#3a3a3a" stroke-width="1"/>
<line x1="113.64" y1="502.4" x2="128.24" y2="502.4" stroke="#3a3a3a" stroke-width="1"/>
<line x1="113.64" y1="434.5" x2="128.24" y2="434.5" stroke="#3a3a3a" stroke-width="1"/>
<rect x="119.40" y="331.10" width="3.0" height="3.0" rx="0.3" fill="#14908e" stroke="#0a4446" stroke-width="0.55"/>
<rect x="119.40" y="339.40" width="3.0" height="3.0" rx="0.3" fill="#14908e" stroke="#0a4446" stroke-width="0.55"/>
<rect x="119.40" y="419.70" width="3.0" height="3.0" rx="0.3" fill="#14908e" stroke="#0a4446" stroke-width="0.55"/>
<rect x="119.40" y="433.00" width="3.0" height="3.0" rx="0.3" fill="#14908e" stroke="#0a4446" stroke-width="0.55"/>
<rect x="119.40" y="490.50" width="3.0" height="3.0" rx="0.3" fill="#14908e" stroke="#0a4446" stroke-width="0.55"/>
<rect x="119.40" y="500.90" width="3.0" height="3.0" rx="0.3" fill="#14908e" stroke="#0a4446" stroke-width="0.55"/>
<rect x="119.40" y="505.80" width="3.0" height="3.0" rx="0.3" fill="#14908e" stroke="#0a4446" stroke-width="0.55"/>
<line x1="143.21" y1="492.6" x2="143.21" y2="501.8" stroke="#3a3a3a" stroke-width="1"/>
<line x1="139.21" y1="492.6" x2="147.21" y2="492.6" stroke="#3a3a3a" stroke-width="1"/>
<rect x="135.91" y="501.8" width="14.6" height="7.599999999999966" fill="none" stroke="#3a3a3a" stroke-width="1"/>
<line x1="135.91" y1="505.5" x2="150.51000000000002" y2="505.5" stroke="#3a3a3a" stroke-width="1"/>
<circle cx="142.00" cy="492.50" r="1.4" fill="#f07424" stroke="#5e2a10" stroke-width="0.6"/>
<circle cx="144.50" cy="493.00" r="1.4" fill="#f07424" stroke="#5e2a10" stroke-width="0.6"/>
<circle cx="138.70" cy="500.00" r="1.4" fill="#f07424" stroke="#5e2a10" stroke-width="0.6"/>
<circle cx="140.50" cy="500.50" r="1.4" fill="#f07424" stroke="#5e2a10" stroke-width="0.6"/>
<circle cx="141.50" cy="502.50" r="1.4" fill="#f07424" stroke="#5e2a10" stroke-width="0.6"/>
<circle cx="145.00" cy="503.00" r="1.4" fill="#f07424" stroke="#5e2a10" stroke-width="0.6"/>
<circle cx="147.50" cy="500.50" r="1.4" fill="#f07424" stroke="#5e2a10" stroke-width="0.6"/>
<circle cx="140.50" cy="506.00" r="1.4" fill="#f07424" stroke="#5e2a10" stroke-width="0.6"/>
<circle cx="143.50" cy="506.50" r="1.4" fill="#f07424" stroke="#5e2a10" stroke-width="0.6"/>
<circle cx="149.00" cy="505.50" r="1.4" fill="#f07424" stroke="#5e2a10" stroke-width="0.6"/>
<circle cx="138.50" cy="508.50" r="1.4" fill="#f07424" stroke="#5e2a10" stroke-width="0.6"/>
<circle cx="142.00" cy="508.50" r="1.4" fill="#f07424" stroke="#5e2a10" stroke-width="0.6"/>
<circle cx="145.00" cy="507.50" r="1.4" fill="#f07424" stroke="#5e2a10" stroke-width="0.6"/>
<circle cx="137.50" cy="510.50" r="1.4" fill="#f07424" stroke="#5e2a10" stroke-width="0.6"/>
<circle cx="140.50" cy="511.00" r="1.4" fill="#f07424" stroke="#5e2a10" stroke-width="0.6"/>
<circle cx="143.50" cy="510.50" r="1.4" fill="#f07424" stroke="#5e2a10" stroke-width="0.6"/>
<circle cx="147.50" cy="510.50" r="1.4" fill="#f07424" stroke="#5e2a10" stroke-width="0.6"/>
<line x1="165.48000000000002" y1="335.0" x2="165.48000000000002" y2="341.5" stroke="#3a3a3a" stroke-width="1"/>
<line x1="165.48000000000002" y1="355.0" x2="165.48000000000002" y2="378.8" stroke="#3a3a3a" stroke-width="1"/>
<line x1="161.98000000000002" y1="335.0" x2="168.98000000000002" y2="335.0" stroke="#3a3a3a" stroke-width="1"/>
<line x1="165.48000000000002" y1="456.9" x2="165.48000000000002" y2="462.0" stroke="#3a3a3a" stroke-width="1"/>
<line x1="161.98000000000002" y1="462.0" x2="168.98000000000002" y2="462.0" stroke="#3a3a3a" stroke-width="1"/>
<rect x="158.18" y="378.8" width="14.6" height="78.09999999999997" fill="none" stroke="#3a3a3a" stroke-width="1"/>
<line x1="158.18" y1="437.6" x2="172.78000000000003" y2="437.6" stroke="#3a3a3a" stroke-width="1"/>
<rect x="164.00" y="333.50" width="3.0" height="3.0" rx="0.3" fill="#14908e" stroke="#0a4446" stroke-width="0.55"/>
<rect x="164.00" y="377.30" width="3.0" height="3.0" rx="0.3" fill="#14908e" stroke="#0a4446" stroke-width="0.55"/>
<rect x="164.00" y="400.50" width="3.0" height="3.0" rx="0.3" fill="#14908e" stroke="#0a4446" stroke-width="0.55"/>
<rect x="160.50" y="437.30" width="3.0" height="3.0" rx="0.3" fill="#14908e" stroke="#0a4446" stroke-width="0.55"/>
<rect x="167.30" y="435.80" width="3.0" height="3.0" rx="0.3" fill="#14908e" stroke="#0a4446" stroke-width="0.55"/>
<rect x="164.00" y="456.10" width="3.0" height="3.0" rx="0.3" fill="#14908e" stroke="#0a4446" stroke-width="0.55"/>
<rect x="164.00" y="459.50" width="3.0" height="3.0" rx="0.3" fill="#14908e" stroke="#0a4446" stroke-width="0.55"/>
<line x1="187.7" y1="455.9" x2="187.7" y2="472.1" stroke="#3a3a3a" stroke-width="1"/>
<line x1="183.7" y1="455.9" x2="191.7" y2="455.9" stroke="#3a3a3a" stroke-width="1"/>
<line x1="187.7" y1="495.0" x2="187.7" y2="510.8" stroke="#3a3a3a" stroke-width="1"/>
<line x1="183.7" y1="510.8" x2="191.7" y2="510.8" stroke="#3a3a3a" stroke-width="1"/>
<rect x="180.54999999999998" y="472.1" width="14.3" height="22.899999999999977" fill="none" stroke="#3a3a3a" stroke-width="1"/>
<line x1="180.54999999999998" y1="485.2" x2="194.85" y2="485.2" stroke="#3a3a3a" stroke-width="1"/>
<circle cx="187.70" cy="455.90" r="1.4" fill="#f07424" stroke="#5e2a10" stroke-width="0.6"/>
<circle cx="187.70" cy="460.40" r="1.4" fill="#f07424" stroke="#5e2a10" stroke-width="0.6"/>
<circle cx="183.80" cy="464.20" r="1.4" fill="#f07424" stroke="#5e2a10" stroke-width="0.6"/>
<circle cx="187.70" cy="464.80" r="1.4" fill="#f07424" stroke="#5e2a10" stroke-width="0.6"/>
<circle cx="191.80" cy="464.20" r="1.4" fill="#f07424" stroke="#5e2a10" stroke-width="0.6"/>
<circle cx="185.50" cy="478.60" r="1.4" fill="#f07424" stroke="#5e2a10" stroke-width="0.6"/>
<circle cx="189.70" cy="479.00" r="1.4" fill="#f07424" stroke="#5e2a10" stroke-width="0.6"/>
<circle cx="182.00" cy="482.00" r="1.4" fill="#f07424" stroke="#5e2a10" stroke-width="0.6"/>
<circle cx="182.00" cy="485.20" r="1.4" fill="#f07424" stroke="#5e2a10" stroke-width="0.6"/>
<circle cx="185.90" cy="484.70" r="1.4" fill="#f07424" stroke="#5e2a10" stroke-width="0.6"/>
<circle cx="189.90" cy="484.70" r="1.4" fill="#f07424" stroke="#5e2a10" stroke-width="0.6"/>
<circle cx="182.00" cy="491.00" r="1.4" fill="#f07424" stroke="#5e2a10" stroke-width="0.6"/>
<circle cx="193.70" cy="489.80" r="1.4" fill="#f07424" stroke="#5e2a10" stroke-width="0.6"/>
<circle cx="185.90" cy="493.00" r="1.4" fill="#f07424" stroke="#5e2a10" stroke-width="0.6"/>
<circle cx="189.70" cy="493.00" r="1.4" fill="#f07424" stroke="#5e2a10" stroke-width="0.6"/>
<circle cx="182.00" cy="495.50" r="1.4" fill="#f07424" stroke="#5e2a10" stroke-width="0.6"/>
<circle cx="193.70" cy="494.50" r="1.4" fill="#f07424" stroke="#5e2a10" stroke-width="0.6"/>
<circle cx="185.90" cy="498.50" r="1.4" fill="#f07424" stroke="#5e2a10" stroke-width="0.6"/>
<circle cx="189.70" cy="497.50" r="1.4" fill="#f07424" stroke="#5e2a10" stroke-width="0.6"/>
<circle cx="187.70" cy="501.50" r="1.4" fill="#f07424" stroke="#5e2a10" stroke-width="0.6"/>
<circle cx="187.70" cy="510.80" r="1.4" fill="#f07424" stroke="#5e2a10" stroke-width="0.6"/>
<line x1="210.02" y1="330.9" x2="210.02" y2="341.5" stroke="#3a3a3a" stroke-width="1"/>
<line x1="210.02" y1="355.0" x2="210.02" y2="417.3" stroke="#3a3a3a" stroke-width="1"/>
<line x1="206.22" y1="330.9" x2="213.82000000000002" y2="330.9" stroke="#3a3a3a" stroke-width="1"/>
<line x1="210.02" y1="472.4" x2="210.02" y2="498.2" stroke="#3a3a3a" stroke-width="1"/>
<line x1="206.22" y1="498.2" x2="213.82000000000002" y2="498.2" stroke="#3a3a3a" stroke-width="1"/>
<rect x="202.72" y="417.3" width="14.6" height="55.099999999999966" fill="none" stroke="#3a3a3a" stroke-width="1"/>
<line x1="202.72" y1="448.6" x2="217.32000000000002" y2="448.6" stroke="#3a3a3a" stroke-width="1"/>
<rect x="208.50" y="329.40" width="3.0" height="3.0" rx="0.3" fill="#14908e" stroke="#0a4446" stroke-width="0.55"/>
<rect x="208.50" y="415.80" width="3.0" height="3.0" rx="0.3" fill="#14908e" stroke="#0a4446" stroke-width="0.55"/>
<rect x="208.50" y="424.20" width="3.0" height="3.0" rx="0.3" fill="#14908e" stroke="#0a4446" stroke-width="0.55"/>
<rect x="208.50" y="447.10" width="3.0" height="3.0" rx="0.3" fill="#14908e" stroke="#0a4446" stroke-width="0.55"/>
<rect x="208.50" y="455.00" width="3.0" height="3.0" rx="0.3" fill="#14908e" stroke="#0a4446" stroke-width="0.55"/>
<rect x="208.50" y="471.00" width="3.0" height="3.0" rx="0.3" fill="#14908e" stroke="#0a4446" stroke-width="0.55"/>
<rect x="208.50" y="496.70" width="3.0" height="3.0" rx="0.3" fill="#14908e" stroke="#0a4446" stroke-width="0.55"/>
<line x1="232.4" y1="464.5" x2="232.4" y2="487.0" stroke="#3a3a3a" stroke-width="1"/>
<line x1="228.4" y1="464.5" x2="236.4" y2="464.5" stroke="#3a3a3a" stroke-width="1"/>
<line x1="232.4" y1="500.5" x2="232.4" y2="506.0" stroke="#3a3a3a" stroke-width="1"/>
<line x1="228.4" y1="506.0" x2="236.4" y2="506.0" stroke="#3a3a3a" stroke-width="1"/>
<rect x="225.15" y="487.0" width="14.5" height="13.5" fill="none" stroke="#3a3a3a" stroke-width="1"/>
<line x1="225.15" y1="497.0" x2="239.65" y2="497.0" stroke="#3a3a3a" stroke-width="1"/>
<circle cx="232.30" cy="464.50" r="1.4" fill="#f07424" stroke="#5e2a10" stroke-width="0.6"/>
<circle cx="232.30" cy="473.00" r="1.4" fill="#f07424" stroke="#5e2a10" stroke-width="0.6"/>
<circle cx="232.30" cy="476.00" r="1.4" fill="#f07424" stroke="#5e2a10" stroke-width="0.6"/>
<circle cx="229.50" cy="485.50" r="1.4" fill="#f07424" stroke="#5e2a10" stroke-width="0.6"/>
<circle cx="235.50" cy="484.50" r="1.4" fill="#f07424" stroke="#5e2a10" stroke-width="0.6"/>
<circle cx="235.50" cy="488.00" r="1.4" fill="#f07424" stroke="#5e2a10" stroke-width="0.6"/>
<circle cx="229.50" cy="489.00" r="1.4" fill="#f07424" stroke="#5e2a10" stroke-width="0.6"/>
<circle cx="235.50" cy="491.50" r="1.4" fill="#f07424" stroke="#5e2a10" stroke-width="0.6"/>
<circle cx="226.50" cy="493.00" r="1.4" fill="#f07424" stroke="#5e2a10" stroke-width="0.6"/>
<circle cx="226.50" cy="497.00" r="1.4" fill="#f07424" stroke="#5e2a10" stroke-width="0.6"/>
<circle cx="229.50" cy="496.00" r="1.4" fill="#f07424" stroke="#5e2a10" stroke-width="0.6"/>
<circle cx="232.50" cy="497.50" r="1.4" fill="#f07424" stroke="#5e2a10" stroke-width="0.6"/>
<circle cx="235.50" cy="496.00" r="1.4" fill="#f07424" stroke="#5e2a10" stroke-width="0.6"/>
<circle cx="238.50" cy="495.00" r="1.4" fill="#f07424" stroke="#5e2a10" stroke-width="0.6"/>
<circle cx="229.50" cy="499.00" r="1.4" fill="#f07424" stroke="#5e2a10" stroke-width="0.6"/>
<circle cx="235.50" cy="500.50" r="1.4" fill="#f07424" stroke="#5e2a10" stroke-width="0.6"/>
<circle cx="238.50" cy="500.00" r="1.4" fill="#f07424" stroke="#5e2a10" stroke-width="0.6"/>
<circle cx="229.50" cy="502.50" r="1.4" fill="#f07424" stroke="#5e2a10" stroke-width="0.6"/>
<circle cx="232.50" cy="502.00" r="1.4" fill="#f07424" stroke="#5e2a10" stroke-width="0.6"/>
<circle cx="235.50" cy="504.50" r="1.4" fill="#f07424" stroke="#5e2a10" stroke-width="0.6"/>
<circle cx="229.50" cy="506.00" r="1.4" fill="#f07424" stroke="#5e2a10" stroke-width="0.6"/>
<line x1="254.56" y1="469.8" x2="254.56" y2="478.6" stroke="#3a3a3a" stroke-width="1"/>
<line x1="250.76" y1="469.8" x2="258.36" y2="469.8" stroke="#3a3a3a" stroke-width="1"/>
<rect x="247.26" y="478.6" width="14.6" height="31.399999999999977" fill="none" stroke="#3a3a3a" stroke-width="1"/>
<line x1="247.26" y1="503.5" x2="261.86" y2="503.5" stroke="#3a3a3a" stroke-width="1"/>
<rect x="253.10" y="468.30" width="3.0" height="3.0" rx="0.3" fill="#14908e" stroke="#0a4446" stroke-width="0.55"/>
<rect x="253.10" y="477.10" width="3.0" height="3.0" rx="0.3" fill="#14908e" stroke="#0a4446" stroke-width="0.55"/>
<rect x="253.10" y="488.50" width="3.0" height="3.0" rx="0.3" fill="#14908e" stroke="#0a4446" stroke-width="0.55"/>
<rect x="253.10" y="502.00" width="3.0" height="3.0" rx="0.3" fill="#14908e" stroke="#0a4446" stroke-width="0.55"/>
<rect x="246.00" y="509.50" width="3.0" height="3.0" rx="0.3" fill="#14908e" stroke="#0a4446" stroke-width="0.55"/>
<rect x="253.10" y="508.50" width="3.0" height="3.0" rx="0.3" fill="#14908e" stroke="#0a4446" stroke-width="0.55"/>
<rect x="260.00" y="508.50" width="3.0" height="3.0" rx="0.3" fill="#14908e" stroke="#0a4446" stroke-width="0.55"/>
<line x1="276.8" y1="476.0" x2="276.8" y2="492.0" stroke="#3a3a3a" stroke-width="1"/>
<line x1="273.2" y1="476.0" x2="280.40000000000003" y2="476.0" stroke="#3a3a3a" stroke-width="1"/>
<rect x="269.6" y="492.0" width="14.4" height="14.100000000000023" fill="none" stroke="#3a3a3a" stroke-width="1"/>
<line x1="269.6" y1="499.0" x2="284.0" y2="499.0" stroke="#3a3a3a" stroke-width="1"/>
<circle cx="276.70" cy="476.00" r="1.4" fill="#f07424" stroke="#5e2a10" stroke-width="0.6"/>
<circle cx="276.70" cy="483.00" r="1.4" fill="#f07424" stroke="#5e2a10" stroke-width="0.6"/>
<circle cx="276.70" cy="487.20" r="1.4" fill="#f07424" stroke="#5e2a10" stroke-width="0.6"/>
<circle cx="270.80" cy="491.80" r="1.4" fill="#f07424" stroke="#5e2a10" stroke-width="0.6"/>
<circle cx="278.80" cy="492.50" r="1.4" fill="#f07424" stroke="#5e2a10" stroke-width="0.6"/>
<circle cx="282.80" cy="491.70" r="1.4" fill="#f07424" stroke="#5e2a10" stroke-width="0.6"/>
<circle cx="274.80" cy="494.80" r="1.4" fill="#f07424" stroke="#5e2a10" stroke-width="0.6"/>
<circle cx="270.80" cy="496.90" r="1.4" fill="#f07424" stroke="#5e2a10" stroke-width="0.6"/>
<circle cx="278.80" cy="496.50" r="1.4" fill="#f07424" stroke="#5e2a10" stroke-width="0.6"/>
<circle cx="282.80" cy="496.70" r="1.4" fill="#f07424" stroke="#5e2a10" stroke-width="0.6"/>
<circle cx="274.80" cy="499.20" r="1.4" fill="#f07424" stroke="#5e2a10" stroke-width="0.6"/>
<circle cx="278.80" cy="501.80" r="1.4" fill="#f07424" stroke="#5e2a10" stroke-width="0.6"/>
<circle cx="270.80" cy="503.60" r="1.4" fill="#f07424" stroke="#5e2a10" stroke-width="0.6"/>
<circle cx="274.80" cy="502.90" r="1.4" fill="#f07424" stroke="#5e2a10" stroke-width="0.6"/>
<circle cx="282.80" cy="502.80" r="1.4" fill="#f07424" stroke="#5e2a10" stroke-width="0.6"/>
<circle cx="278.80" cy="505.70" r="1.4" fill="#f07424" stroke="#5e2a10" stroke-width="0.6"/>
<circle cx="270.80" cy="507.00" r="1.4" fill="#f07424" stroke="#5e2a10" stroke-width="0.6"/>
<circle cx="274.80" cy="509.10" r="1.4" fill="#f07424" stroke="#5e2a10" stroke-width="0.6"/>
<circle cx="282.80" cy="509.50" r="1.4" fill="#f07424" stroke="#5e2a10" stroke-width="0.6"/>
<circle cx="270.80" cy="511.20" r="1.4" fill="#f07424" stroke="#5e2a10" stroke-width="0.6"/>
<circle cx="278.80" cy="510.80" r="1.4" fill="#f07424" stroke="#5e2a10" stroke-width="0.6"/>
<line x1="299.1" y1="493.0" x2="299.1" y2="501.5" stroke="#3a3a3a" stroke-width="1"/>
<line x1="295.3" y1="493.0" x2="302.90000000000003" y2="493.0" stroke="#3a3a3a" stroke-width="1"/>
<rect x="291.8" y="501.5" width="14.6" height="9.0" fill="none" stroke="#3a3a3a" stroke-width="1"/>
<line x1="291.8" y1="509.5" x2="306.40000000000003" y2="509.5" stroke="#3a3a3a" stroke-width="1"/>
<rect x="297.60" y="491.50" width="3.0" height="3.0" rx="0.3" fill="#14908e" stroke="#0a4446" stroke-width="0.55"/>
<rect x="297.60" y="500.00" width="3.0" height="3.0" rx="0.3" fill="#14908e" stroke="#0a4446" stroke-width="0.55"/>
<rect x="293.50" y="508.50" width="3.0" height="3.0" rx="0.3" fill="#14908e" stroke="#0a4446" stroke-width="0.55"/>
<rect x="297.60" y="508.50" width="3.0" height="3.0" rx="0.3" fill="#14908e" stroke="#0a4446" stroke-width="0.55"/>
<rect x="301.50" y="508.50" width="3.0" height="3.0" rx="0.3" fill="#14908e" stroke="#0a4446" stroke-width="0.55"/>
<line x1="321.2" y1="440.5" x2="321.2" y2="450.2" stroke="#3a3a3a" stroke-width="1"/>
<line x1="317.2" y1="440.5" x2="325.2" y2="440.5" stroke="#3a3a3a" stroke-width="1"/>
<line x1="321.2" y1="473.2" x2="321.2" y2="487.0" stroke="#3a3a3a" stroke-width="1"/>
<line x1="317.2" y1="487.0" x2="325.2" y2="487.0" stroke="#3a3a3a" stroke-width="1"/>
<rect x="314.2" y="450.2" width="14.0" height="23.0" fill="none" stroke="#3a3a3a" stroke-width="1"/>
<line x1="314.2" y1="462.0" x2="328.2" y2="462.0" stroke="#3a3a3a" stroke-width="1"/>
<circle cx="321.30" cy="440.50" r="1.4" fill="#f07424" stroke="#5e2a10" stroke-width="0.6"/>
<circle cx="321.30" cy="444.00" r="1.4" fill="#f07424" stroke="#5e2a10" stroke-width="0.6"/>
<circle cx="315.40" cy="444.80" r="1.4" fill="#f07424" stroke="#5e2a10" stroke-width="0.6"/>
<circle cx="321.30" cy="447.50" r="1.4" fill="#f07424" stroke="#5e2a10" stroke-width="0.6"/>
<circle cx="327.20" cy="446.50" r="1.4" fill="#f07424" stroke="#5e2a10" stroke-width="0.6"/>
<circle cx="318.40" cy="452.00" r="1.4" fill="#f07424" stroke="#5e2a10" stroke-width="0.6"/>
<circle cx="324.30" cy="453.00" r="1.4" fill="#f07424" stroke="#5e2a10" stroke-width="0.6"/>
<circle cx="315.40" cy="458.50" r="1.4" fill="#f07424" stroke="#5e2a10" stroke-width="0.6"/>
<circle cx="315.40" cy="462.00" r="1.4" fill="#f07424" stroke="#5e2a10" stroke-width="0.6"/>
<circle cx="321.30" cy="462.50" r="1.4" fill="#f07424" stroke="#5e2a10" stroke-width="0.6"/>
<circle cx="327.20" cy="461.50" r="1.4" fill="#f07424" stroke="#5e2a10" stroke-width="0.6"/>
<circle cx="318.40" cy="467.00" r="1.4" fill="#f07424" stroke="#5e2a10" stroke-width="0.6"/>
<circle cx="324.30" cy="467.00" r="1.4" fill="#f07424" stroke="#5e2a10" stroke-width="0.6"/>
<circle cx="315.40" cy="470.50" r="1.4" fill="#f07424" stroke="#5e2a10" stroke-width="0.6"/>
<circle cx="327.20" cy="470.50" r="1.4" fill="#f07424" stroke="#5e2a10" stroke-width="0.6"/>
<circle cx="315.40" cy="474.00" r="1.4" fill="#f07424" stroke="#5e2a10" stroke-width="0.6"/>
<circle cx="321.30" cy="473.00" r="1.4" fill="#f07424" stroke="#5e2a10" stroke-width="0.6"/>
<circle cx="321.30" cy="476.00" r="1.4" fill="#f07424" stroke="#5e2a10" stroke-width="0.6"/>
<circle cx="321.30" cy="483.50" r="1.4" fill="#f07424" stroke="#5e2a10" stroke-width="0.6"/>
<circle cx="327.20" cy="484.50" r="1.4" fill="#f07424" stroke="#5e2a10" stroke-width="0.6"/>
<circle cx="315.40" cy="487.00" r="1.4" fill="#f07424" stroke="#5e2a10" stroke-width="0.6"/>
<polyline points="77.3,385.7 77.3,381.5 99.6,381.5 99.6,385.7" fill="none" stroke="#222" stroke-width="1.2"/>
<polygon points="85.00,374.10 85.41,375.13 86.52,375.21 85.67,375.92 85.94,376.99 85.00,376.40 84.06,376.99 84.33,375.92 83.48,375.21 84.59,375.13" fill="#111" stroke="#111" stroke-width="0.35"/>
<polygon points="89.00,374.10 89.41,375.13 90.52,375.21 89.67,375.92 89.94,376.99 89.00,376.40 88.06,376.99 88.33,375.92 87.48,375.21 88.59,375.13" fill="#111" stroke="#111" stroke-width="0.35"/>
<polygon points="93.00,374.10 93.41,375.13 94.52,375.21 93.67,375.92 93.94,376.99 93.00,376.40 92.06,376.99 92.33,375.92 91.48,375.21 92.59,375.13" fill="#111" stroke="#111" stroke-width="0.35"/>
<polyline points="121.2,325.6 121.2,321.3 143.5,321.3 143.5,325.6" fill="none" stroke="#222" stroke-width="1.2"/>
<polygon points="130.30,314.40 130.71,315.43 131.82,315.51 130.97,316.22 131.24,317.29 130.30,316.70 129.36,317.29 129.63,316.22 128.78,315.51 129.89,315.43" fill="#111" stroke="#111" stroke-width="0.35"/>
<polygon points="134.50,314.40 134.91,315.43 136.02,315.51 135.17,316.22 135.44,317.29 134.50,316.70 133.56,317.29 133.83,316.22 132.98,315.51 134.09,315.43" fill="#111" stroke="#111" stroke-width="0.35"/>
<polyline points="165.8,325.6 165.8,321.3 188.3,321.3 188.3,325.6" fill="none" stroke="#222" stroke-width="1.2"/>
<polygon points="173.60,314.60 174.01,315.63 175.12,315.71 174.27,316.42 174.54,317.49 173.60,316.90 172.66,317.49 172.93,316.42 172.08,315.71 173.19,315.63" fill="#111" stroke="#111" stroke-width="0.35"/>
<polygon points="177.50,314.60 177.91,315.63 179.02,315.71 178.17,316.42 178.44,317.49 177.50,316.90 176.56,317.49 176.83,316.42 175.98,315.71 177.09,315.63" fill="#111" stroke="#111" stroke-width="0.35"/>
<polygon points="181.60,314.60 182.01,315.63 183.12,315.71 182.27,316.42 182.54,317.49 181.60,316.90 180.66,317.49 180.93,316.42 180.08,315.71 181.19,315.63" fill="#111" stroke="#111" stroke-width="0.35"/>
<polyline points="210.0,325.6 210.0,321.3 232.7,321.3 232.7,325.6" fill="none" stroke="#222" stroke-width="1.2"/>
<polygon points="217.90,314.60 218.31,315.63 219.42,315.71 218.57,316.42 218.84,317.49 217.90,316.90 216.96,317.49 217.23,316.42 216.38,315.71 217.49,315.63" fill="#111" stroke="#111" stroke-width="0.35"/>
<polygon points="221.80,314.60 222.21,315.63 223.32,315.71 222.47,316.42 222.74,317.49 221.80,316.90 220.86,317.49 221.13,316.42 220.28,315.71 221.39,315.63" fill="#111" stroke="#111" stroke-width="0.35"/>
<polygon points="225.90,314.60 226.31,315.63 227.42,315.71 226.57,316.42 226.84,317.49 225.90,316.90 224.96,317.49 225.23,316.42 224.38,315.71 225.49,315.63" fill="#111" stroke="#111" stroke-width="0.35"/>
<polyline points="301.5,430.7 301.5,426.7 324.5,426.7 324.5,430.7" fill="none" stroke="#222" stroke-width="1.2"/>
<polygon points="309.30,419.60 309.71,420.63 310.82,420.71 309.97,421.42 310.24,422.49 309.30,421.90 308.36,422.49 308.63,421.42 307.78,420.71 308.89,420.63" fill="#111" stroke="#111" stroke-width="0.35"/>
<polygon points="313.40,419.60 313.81,420.63 314.92,420.71 314.07,421.42 314.34,422.49 313.40,421.90 312.46,422.49 312.73,421.42 311.88,420.71 312.99,420.63" fill="#111" stroke="#111" stroke-width="0.35"/>
<polygon points="317.50,419.60 317.91,420.63 319.02,420.71 318.17,421.42 318.44,422.49 317.50,421.90 316.56,422.49 316.83,421.42 315.98,420.71 317.09,420.63" fill="#111" stroke="#111" stroke-width="0.35"/>
</svg>
</body></html>
